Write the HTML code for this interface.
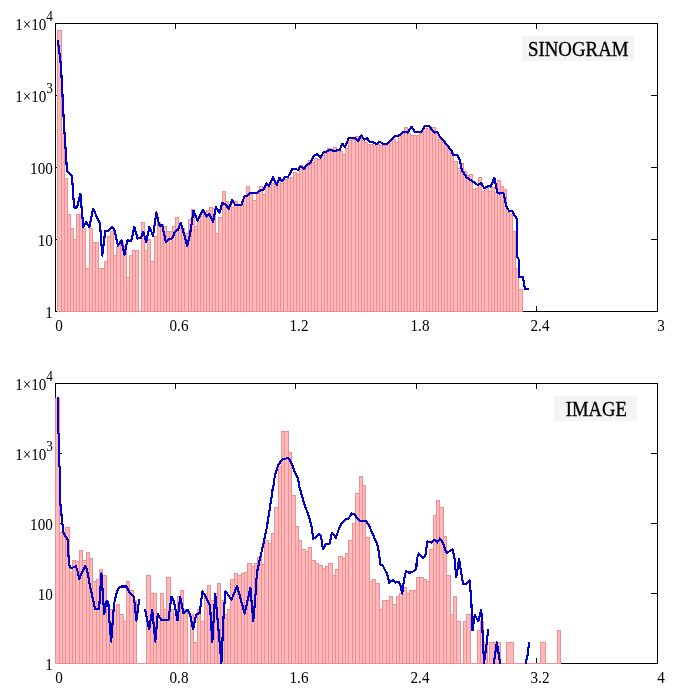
<!DOCTYPE html>
<html lang="en">
<head>
<meta charset="utf-8">
<title>Histograms: SINOGRAM and IMAGE</title>
<style>
html,body{margin:0;padding:0;background:#fff;}
body{width:693px;height:700px;overflow:hidden;font-family:"Liberation Serif",serif;}
svg{display:block;}
</style>
</head>
<body>
<svg width="693" height="700" viewBox="0 0 693 700" font-family="'Liberation Serif', serif" font-size="16" fill="#000">
<rect width="693" height="700" fill="#fff"/>
<g shape-rendering="crispEdges">
<rect x="55" y="23" width="603" height="1" fill="#000"/>
<rect x="55" y="311" width="603" height="1" fill="#000"/>
<rect x="55" y="23" width="1" height="289" fill="#000"/>
<rect x="657" y="23" width="1" height="289" fill="#000"/>
<rect x="175" y="23" width="1" height="6" fill="#000"/>
<rect x="175" y="306" width="1" height="6" fill="#000"/>
<rect x="295" y="23" width="1" height="6" fill="#000"/>
<rect x="295" y="306" width="1" height="6" fill="#000"/>
<rect x="416" y="23" width="1" height="6" fill="#000"/>
<rect x="416" y="306" width="1" height="6" fill="#000"/>
<rect x="536" y="23" width="1" height="6" fill="#000"/>
<rect x="536" y="306" width="1" height="6" fill="#000"/>
<rect x="55" y="95" width="7" height="1" fill="#000"/>
<rect x="651" y="95" width="7" height="1" fill="#000"/>
<rect x="55" y="167" width="7" height="1" fill="#000"/>
<rect x="651" y="167" width="7" height="1" fill="#000"/>
<rect x="55" y="239" width="7" height="1" fill="#000"/>
<rect x="651" y="239" width="7" height="1" fill="#000"/>
<rect x="57.5" y="30.5" width="4" height="281" fill="#ffb9ba" stroke="#ec9092" stroke-width="1"/>
<rect x="61.5" y="133.5" width="3" height="178" fill="#ffb9ba" stroke="#ec9092" stroke-width="1"/>
<rect x="64.5" y="178.5" width="3" height="133" fill="#ffb9ba" stroke="#ec9092" stroke-width="1"/>
<rect x="67.5" y="214.5" width="3" height="97" fill="#ffb9ba" stroke="#ec9092" stroke-width="1"/>
<rect x="70.5" y="228.5" width="3" height="83" fill="#ffb9ba" stroke="#ec9092" stroke-width="1"/>
<rect x="73.5" y="239.5" width="3" height="72" fill="#ffb9ba" stroke="#ec9092" stroke-width="1"/>
<rect x="76.5" y="214.5" width="3" height="97" fill="#ffb9ba" stroke="#ec9092" stroke-width="1"/>
<rect x="79.5" y="214.5" width="3" height="97" fill="#ffb9ba" stroke="#ec9092" stroke-width="1"/>
<rect x="82.5" y="228.5" width="3" height="83" fill="#ffb9ba" stroke="#ec9092" stroke-width="1"/>
<rect x="85.5" y="268.5" width="4" height="43" fill="#ffb9ba" stroke="#ec9092" stroke-width="1"/>
<rect x="89.5" y="228.5" width="3" height="83" fill="#ffb9ba" stroke="#ec9092" stroke-width="1"/>
<rect x="92.5" y="242.5" width="3" height="69" fill="#ffb9ba" stroke="#ec9092" stroke-width="1"/>
<rect x="95.5" y="242.5" width="3" height="69" fill="#ffb9ba" stroke="#ec9092" stroke-width="1"/>
<rect x="98.5" y="268.5" width="3" height="43" fill="#ffb9ba" stroke="#ec9092" stroke-width="1"/>
<rect x="101.5" y="268.5" width="3" height="43" fill="#ffb9ba" stroke="#ec9092" stroke-width="1"/>
<rect x="104.5" y="261.5" width="3" height="50" fill="#ffb9ba" stroke="#ec9092" stroke-width="1"/>
<rect x="107.5" y="236.5" width="3" height="75" fill="#ffb9ba" stroke="#ec9092" stroke-width="1"/>
<rect x="110.5" y="231.5" width="3" height="80" fill="#ffb9ba" stroke="#ec9092" stroke-width="1"/>
<rect x="113.5" y="255.5" width="3" height="56" fill="#ffb9ba" stroke="#ec9092" stroke-width="1"/>
<rect x="116.5" y="246.5" width="4" height="65" fill="#ffb9ba" stroke="#ec9092" stroke-width="1"/>
<rect x="120.5" y="242.5" width="3" height="69" fill="#ffb9ba" stroke="#ec9092" stroke-width="1"/>
<rect x="123.5" y="246.5" width="3" height="65" fill="#ffb9ba" stroke="#ec9092" stroke-width="1"/>
<rect x="126.5" y="277.5" width="3" height="34" fill="#ffb9ba" stroke="#ec9092" stroke-width="1"/>
<rect x="129.5" y="255.5" width="3" height="56" fill="#ffb9ba" stroke="#ec9092" stroke-width="1"/>
<rect x="132.5" y="250.5" width="3" height="61" fill="#ffb9ba" stroke="#ec9092" stroke-width="1"/>
<rect x="135.5" y="250.5" width="3" height="61" fill="#ffb9ba" stroke="#ec9092" stroke-width="1"/>
<rect x="138" y="311" width="4" height="1" fill="#ec9092"/>
<rect x="141.5" y="222.5" width="3" height="89" fill="#ffb9ba" stroke="#ec9092" stroke-width="1"/>
<rect x="144.5" y="250.5" width="3" height="61" fill="#ffb9ba" stroke="#ec9092" stroke-width="1"/>
<rect x="147.5" y="239.5" width="3" height="72" fill="#ffb9ba" stroke="#ec9092" stroke-width="1"/>
<rect x="150.5" y="261.5" width="4" height="50" fill="#ffb9ba" stroke="#ec9092" stroke-width="1"/>
<rect x="154.5" y="236.5" width="3" height="75" fill="#ffb9ba" stroke="#ec9092" stroke-width="1"/>
<rect x="157.5" y="222.5" width="3" height="89" fill="#ffb9ba" stroke="#ec9092" stroke-width="1"/>
<rect x="160.5" y="224.5" width="3" height="87" fill="#ffb9ba" stroke="#ec9092" stroke-width="1"/>
<rect x="163.5" y="226.5" width="3" height="85" fill="#ffb9ba" stroke="#ec9092" stroke-width="1"/>
<rect x="166.5" y="231.5" width="3" height="80" fill="#ffb9ba" stroke="#ec9092" stroke-width="1"/>
<rect x="169.5" y="231.5" width="3" height="80" fill="#ffb9ba" stroke="#ec9092" stroke-width="1"/>
<rect x="172.5" y="226.5" width="3" height="85" fill="#ffb9ba" stroke="#ec9092" stroke-width="1"/>
<rect x="175.5" y="217.5" width="3" height="94" fill="#ffb9ba" stroke="#ec9092" stroke-width="1"/>
<rect x="178.5" y="224.5" width="3" height="87" fill="#ffb9ba" stroke="#ec9092" stroke-width="1"/>
<rect x="181.5" y="228.5" width="3" height="83" fill="#ffb9ba" stroke="#ec9092" stroke-width="1"/>
<rect x="184.5" y="233.5" width="4" height="78" fill="#ffb9ba" stroke="#ec9092" stroke-width="1"/>
<rect x="188.5" y="219.5" width="3" height="92" fill="#ffb9ba" stroke="#ec9092" stroke-width="1"/>
<rect x="191.5" y="209.5" width="3" height="102" fill="#ffb9ba" stroke="#ec9092" stroke-width="1"/>
<rect x="194.5" y="226.5" width="3" height="85" fill="#ffb9ba" stroke="#ec9092" stroke-width="1"/>
<rect x="197.5" y="221.5" width="3" height="90" fill="#ffb9ba" stroke="#ec9092" stroke-width="1"/>
<rect x="200.5" y="213.5" width="3" height="98" fill="#ffb9ba" stroke="#ec9092" stroke-width="1"/>
<rect x="203.5" y="214.5" width="3" height="97" fill="#ffb9ba" stroke="#ec9092" stroke-width="1"/>
<rect x="206.5" y="210.5" width="3" height="101" fill="#ffb9ba" stroke="#ec9092" stroke-width="1"/>
<rect x="209.5" y="207.5" width="3" height="104" fill="#ffb9ba" stroke="#ec9092" stroke-width="1"/>
<rect x="212.5" y="208.5" width="3" height="103" fill="#ffb9ba" stroke="#ec9092" stroke-width="1"/>
<rect x="215.5" y="233.5" width="3" height="78" fill="#ffb9ba" stroke="#ec9092" stroke-width="1"/>
<rect x="218.5" y="217.5" width="4" height="94" fill="#ffb9ba" stroke="#ec9092" stroke-width="1"/>
<rect x="222.5" y="191.5" width="3" height="120" fill="#ffb9ba" stroke="#ec9092" stroke-width="1"/>
<rect x="225.5" y="201.5" width="3" height="110" fill="#ffb9ba" stroke="#ec9092" stroke-width="1"/>
<rect x="228.5" y="205.5" width="3" height="106" fill="#ffb9ba" stroke="#ec9092" stroke-width="1"/>
<rect x="231.5" y="207.5" width="3" height="104" fill="#ffb9ba" stroke="#ec9092" stroke-width="1"/>
<rect x="234.5" y="201.5" width="3" height="110" fill="#ffb9ba" stroke="#ec9092" stroke-width="1"/>
<rect x="237.5" y="205.5" width="3" height="106" fill="#ffb9ba" stroke="#ec9092" stroke-width="1"/>
<rect x="240.5" y="205.5" width="3" height="106" fill="#ffb9ba" stroke="#ec9092" stroke-width="1"/>
<rect x="243.5" y="196.5" width="3" height="115" fill="#ffb9ba" stroke="#ec9092" stroke-width="1"/>
<rect x="246.5" y="186.5" width="3" height="125" fill="#ffb9ba" stroke="#ec9092" stroke-width="1"/>
<rect x="249.5" y="194.5" width="3" height="117" fill="#ffb9ba" stroke="#ec9092" stroke-width="1"/>
<rect x="252.5" y="200.5" width="4" height="111" fill="#ffb9ba" stroke="#ec9092" stroke-width="1"/>
<rect x="256.5" y="193.5" width="3" height="118" fill="#ffb9ba" stroke="#ec9092" stroke-width="1"/>
<rect x="259.5" y="186.5" width="3" height="125" fill="#ffb9ba" stroke="#ec9092" stroke-width="1"/>
<rect x="262.5" y="194.5" width="3" height="117" fill="#ffb9ba" stroke="#ec9092" stroke-width="1"/>
<rect x="265.5" y="185.5" width="3" height="126" fill="#ffb9ba" stroke="#ec9092" stroke-width="1"/>
<rect x="268.5" y="187.5" width="3" height="124" fill="#ffb9ba" stroke="#ec9092" stroke-width="1"/>
<rect x="271.5" y="183.5" width="3" height="128" fill="#ffb9ba" stroke="#ec9092" stroke-width="1"/>
<rect x="274.5" y="186.5" width="3" height="125" fill="#ffb9ba" stroke="#ec9092" stroke-width="1"/>
<rect x="277.5" y="180.5" width="3" height="131" fill="#ffb9ba" stroke="#ec9092" stroke-width="1"/>
<rect x="280.5" y="183.5" width="3" height="128" fill="#ffb9ba" stroke="#ec9092" stroke-width="1"/>
<rect x="283.5" y="179.5" width="4" height="132" fill="#ffb9ba" stroke="#ec9092" stroke-width="1"/>
<rect x="287.5" y="178.5" width="3" height="133" fill="#ffb9ba" stroke="#ec9092" stroke-width="1"/>
<rect x="290.5" y="177.5" width="3" height="134" fill="#ffb9ba" stroke="#ec9092" stroke-width="1"/>
<rect x="293.5" y="172.5" width="3" height="139" fill="#ffb9ba" stroke="#ec9092" stroke-width="1"/>
<rect x="296.5" y="174.5" width="3" height="137" fill="#ffb9ba" stroke="#ec9092" stroke-width="1"/>
<rect x="299.5" y="165.5" width="3" height="146" fill="#ffb9ba" stroke="#ec9092" stroke-width="1"/>
<rect x="302.5" y="169.5" width="3" height="142" fill="#ffb9ba" stroke="#ec9092" stroke-width="1"/>
<rect x="305.5" y="164.5" width="3" height="147" fill="#ffb9ba" stroke="#ec9092" stroke-width="1"/>
<rect x="308.5" y="160.5" width="3" height="151" fill="#ffb9ba" stroke="#ec9092" stroke-width="1"/>
<rect x="311.5" y="162.5" width="3" height="149" fill="#ffb9ba" stroke="#ec9092" stroke-width="1"/>
<rect x="314.5" y="158.5" width="3" height="153" fill="#ffb9ba" stroke="#ec9092" stroke-width="1"/>
<rect x="317.5" y="159.5" width="4" height="152" fill="#ffb9ba" stroke="#ec9092" stroke-width="1"/>
<rect x="321.5" y="155.5" width="3" height="156" fill="#ffb9ba" stroke="#ec9092" stroke-width="1"/>
<rect x="324.5" y="153.5" width="3" height="158" fill="#ffb9ba" stroke="#ec9092" stroke-width="1"/>
<rect x="327.5" y="148.5" width="3" height="163" fill="#ffb9ba" stroke="#ec9092" stroke-width="1"/>
<rect x="330.5" y="151.5" width="3" height="160" fill="#ffb9ba" stroke="#ec9092" stroke-width="1"/>
<rect x="333.5" y="147.5" width="3" height="164" fill="#ffb9ba" stroke="#ec9092" stroke-width="1"/>
<rect x="336.5" y="151.5" width="3" height="160" fill="#ffb9ba" stroke="#ec9092" stroke-width="1"/>
<rect x="339.5" y="151.5" width="3" height="160" fill="#ffb9ba" stroke="#ec9092" stroke-width="1"/>
<rect x="342.5" y="154.5" width="3" height="157" fill="#ffb9ba" stroke="#ec9092" stroke-width="1"/>
<rect x="345.5" y="148.5" width="3" height="163" fill="#ffb9ba" stroke="#ec9092" stroke-width="1"/>
<rect x="348.5" y="140.5" width="3" height="171" fill="#ffb9ba" stroke="#ec9092" stroke-width="1"/>
<rect x="351.5" y="139.5" width="4" height="172" fill="#ffb9ba" stroke="#ec9092" stroke-width="1"/>
<rect x="355.5" y="136.5" width="3" height="175" fill="#ffb9ba" stroke="#ec9092" stroke-width="1"/>
<rect x="358.5" y="137.5" width="3" height="174" fill="#ffb9ba" stroke="#ec9092" stroke-width="1"/>
<rect x="361.5" y="140.5" width="3" height="171" fill="#ffb9ba" stroke="#ec9092" stroke-width="1"/>
<rect x="364.5" y="142.5" width="3" height="169" fill="#ffb9ba" stroke="#ec9092" stroke-width="1"/>
<rect x="367.5" y="144.5" width="3" height="167" fill="#ffb9ba" stroke="#ec9092" stroke-width="1"/>
<rect x="370.5" y="144.5" width="3" height="167" fill="#ffb9ba" stroke="#ec9092" stroke-width="1"/>
<rect x="373.5" y="145.5" width="3" height="166" fill="#ffb9ba" stroke="#ec9092" stroke-width="1"/>
<rect x="376.5" y="144.5" width="3" height="167" fill="#ffb9ba" stroke="#ec9092" stroke-width="1"/>
<rect x="379.5" y="145.5" width="3" height="166" fill="#ffb9ba" stroke="#ec9092" stroke-width="1"/>
<rect x="382.5" y="145.5" width="3" height="166" fill="#ffb9ba" stroke="#ec9092" stroke-width="1"/>
<rect x="385.5" y="145.5" width="4" height="166" fill="#ffb9ba" stroke="#ec9092" stroke-width="1"/>
<rect x="389.5" y="141.5" width="3" height="170" fill="#ffb9ba" stroke="#ec9092" stroke-width="1"/>
<rect x="392.5" y="139.5" width="3" height="172" fill="#ffb9ba" stroke="#ec9092" stroke-width="1"/>
<rect x="395.5" y="142.5" width="3" height="169" fill="#ffb9ba" stroke="#ec9092" stroke-width="1"/>
<rect x="398.5" y="136.5" width="3" height="175" fill="#ffb9ba" stroke="#ec9092" stroke-width="1"/>
<rect x="401.5" y="133.5" width="3" height="178" fill="#ffb9ba" stroke="#ec9092" stroke-width="1"/>
<rect x="404.5" y="127.5" width="3" height="184" fill="#ffb9ba" stroke="#ec9092" stroke-width="1"/>
<rect x="407.5" y="133.5" width="3" height="178" fill="#ffb9ba" stroke="#ec9092" stroke-width="1"/>
<rect x="410.5" y="135.5" width="3" height="176" fill="#ffb9ba" stroke="#ec9092" stroke-width="1"/>
<rect x="413.5" y="135.5" width="3" height="176" fill="#ffb9ba" stroke="#ec9092" stroke-width="1"/>
<rect x="416.5" y="135.5" width="3" height="176" fill="#ffb9ba" stroke="#ec9092" stroke-width="1"/>
<rect x="419.5" y="133.5" width="4" height="178" fill="#ffb9ba" stroke="#ec9092" stroke-width="1"/>
<rect x="423.5" y="128.5" width="3" height="183" fill="#ffb9ba" stroke="#ec9092" stroke-width="1"/>
<rect x="426.5" y="128.5" width="3" height="183" fill="#ffb9ba" stroke="#ec9092" stroke-width="1"/>
<rect x="429.5" y="127.5" width="3" height="184" fill="#ffb9ba" stroke="#ec9092" stroke-width="1"/>
<rect x="432.5" y="127.5" width="3" height="184" fill="#ffb9ba" stroke="#ec9092" stroke-width="1"/>
<rect x="435.5" y="133.5" width="3" height="178" fill="#ffb9ba" stroke="#ec9092" stroke-width="1"/>
<rect x="438.5" y="139.5" width="3" height="172" fill="#ffb9ba" stroke="#ec9092" stroke-width="1"/>
<rect x="441.5" y="142.5" width="3" height="169" fill="#ffb9ba" stroke="#ec9092" stroke-width="1"/>
<rect x="444.5" y="144.5" width="3" height="167" fill="#ffb9ba" stroke="#ec9092" stroke-width="1"/>
<rect x="447.5" y="150.5" width="3" height="161" fill="#ffb9ba" stroke="#ec9092" stroke-width="1"/>
<rect x="450.5" y="152.5" width="3" height="159" fill="#ffb9ba" stroke="#ec9092" stroke-width="1"/>
<rect x="453.5" y="161.5" width="4" height="150" fill="#ffb9ba" stroke="#ec9092" stroke-width="1"/>
<rect x="457.5" y="168.5" width="3" height="143" fill="#ffb9ba" stroke="#ec9092" stroke-width="1"/>
<rect x="460.5" y="163.5" width="3" height="148" fill="#ffb9ba" stroke="#ec9092" stroke-width="1"/>
<rect x="463.5" y="171.5" width="3" height="140" fill="#ffb9ba" stroke="#ec9092" stroke-width="1"/>
<rect x="466.5" y="175.5" width="3" height="136" fill="#ffb9ba" stroke="#ec9092" stroke-width="1"/>
<rect x="469.5" y="174.5" width="3" height="137" fill="#ffb9ba" stroke="#ec9092" stroke-width="1"/>
<rect x="472.5" y="189.5" width="3" height="122" fill="#ffb9ba" stroke="#ec9092" stroke-width="1"/>
<rect x="475.5" y="188.5" width="3" height="123" fill="#ffb9ba" stroke="#ec9092" stroke-width="1"/>
<rect x="478.5" y="177.5" width="3" height="134" fill="#ffb9ba" stroke="#ec9092" stroke-width="1"/>
<rect x="481.5" y="191.5" width="3" height="120" fill="#ffb9ba" stroke="#ec9092" stroke-width="1"/>
<rect x="484.5" y="187.5" width="4" height="124" fill="#ffb9ba" stroke="#ec9092" stroke-width="1"/>
<rect x="488.5" y="191.5" width="3" height="120" fill="#ffb9ba" stroke="#ec9092" stroke-width="1"/>
<rect x="491.5" y="187.5" width="3" height="124" fill="#ffb9ba" stroke="#ec9092" stroke-width="1"/>
<rect x="494.5" y="192.5" width="3" height="119" fill="#ffb9ba" stroke="#ec9092" stroke-width="1"/>
<rect x="497.5" y="180.5" width="3" height="131" fill="#ffb9ba" stroke="#ec9092" stroke-width="1"/>
<rect x="500.5" y="186.5" width="3" height="125" fill="#ffb9ba" stroke="#ec9092" stroke-width="1"/>
<rect x="503.5" y="189.5" width="3" height="122" fill="#ffb9ba" stroke="#ec9092" stroke-width="1"/>
<rect x="506.5" y="212.5" width="3" height="99" fill="#ffb9ba" stroke="#ec9092" stroke-width="1"/>
<rect x="509.5" y="214.5" width="3" height="97" fill="#ffb9ba" stroke="#ec9092" stroke-width="1"/>
<rect x="512.5" y="231.5" width="3" height="80" fill="#ffb9ba" stroke="#ec9092" stroke-width="1"/>
<rect x="515.5" y="268.5" width="3" height="43" fill="#ffb9ba" stroke="#ec9092" stroke-width="1"/>
<rect x="518.5" y="289.5" width="4" height="22" fill="#ffb9ba" stroke="#ec9092" stroke-width="1"/>
<rect x="55" y="383" width="603" height="1" fill="#000"/>
<rect x="55" y="663" width="603" height="1" fill="#000"/>
<rect x="55" y="383" width="1" height="281" fill="#000"/>
<rect x="657" y="383" width="1" height="281" fill="#000"/>
<rect x="175" y="383" width="1" height="6" fill="#000"/>
<rect x="175" y="658" width="1" height="6" fill="#000"/>
<rect x="295" y="383" width="1" height="6" fill="#000"/>
<rect x="295" y="658" width="1" height="6" fill="#000"/>
<rect x="416" y="383" width="1" height="6" fill="#000"/>
<rect x="416" y="658" width="1" height="6" fill="#000"/>
<rect x="536" y="383" width="1" height="6" fill="#000"/>
<rect x="536" y="658" width="1" height="6" fill="#000"/>
<rect x="55" y="453" width="7" height="1" fill="#000"/>
<rect x="651" y="453" width="7" height="1" fill="#000"/>
<rect x="55" y="523" width="7" height="1" fill="#000"/>
<rect x="651" y="523" width="7" height="1" fill="#000"/>
<rect x="55" y="593" width="7" height="1" fill="#000"/>
<rect x="651" y="593" width="7" height="1" fill="#000"/>
<rect x="55" y="663" width="506" height="1" fill="#ec9092"/>
<rect x="55.5" y="398.5" width="4" height="265" fill="#ffb9ba" stroke="#ec9092" stroke-width="1"/>
<rect x="59.5" y="532.5" width="3" height="131" fill="#ffb9ba" stroke="#ec9092" stroke-width="1"/>
<rect x="62.5" y="535.5" width="3" height="128" fill="#ffb9ba" stroke="#ec9092" stroke-width="1"/>
<rect x="65.5" y="527.5" width="4" height="136" fill="#ffb9ba" stroke="#ec9092" stroke-width="1"/>
<rect x="69.5" y="572.5" width="3" height="91" fill="#ffb9ba" stroke="#ec9092" stroke-width="1"/>
<rect x="72.5" y="560.5" width="3" height="103" fill="#ffb9ba" stroke="#ec9092" stroke-width="1"/>
<rect x="75.5" y="561.5" width="4" height="102" fill="#ffb9ba" stroke="#ec9092" stroke-width="1"/>
<rect x="79.5" y="550.5" width="3" height="113" fill="#ffb9ba" stroke="#ec9092" stroke-width="1"/>
<rect x="82.5" y="560.5" width="4" height="103" fill="#ffb9ba" stroke="#ec9092" stroke-width="1"/>
<rect x="86.5" y="552.5" width="3" height="111" fill="#ffb9ba" stroke="#ec9092" stroke-width="1"/>
<rect x="89.5" y="558.5" width="3" height="105" fill="#ffb9ba" stroke="#ec9092" stroke-width="1"/>
<rect x="92.5" y="581.5" width="4" height="82" fill="#ffb9ba" stroke="#ec9092" stroke-width="1"/>
<rect x="96.5" y="579.5" width="3" height="84" fill="#ffb9ba" stroke="#ec9092" stroke-width="1"/>
<rect x="99.5" y="569.5" width="3" height="94" fill="#ffb9ba" stroke="#ec9092" stroke-width="1"/>
<rect x="102.5" y="575.5" width="4" height="88" fill="#ffb9ba" stroke="#ec9092" stroke-width="1"/>
<rect x="106.5" y="609.5" width="3" height="54" fill="#ffb9ba" stroke="#ec9092" stroke-width="1"/>
<rect x="109.5" y="609.5" width="4" height="54" fill="#ffb9ba" stroke="#ec9092" stroke-width="1"/>
<rect x="113.5" y="609.5" width="3" height="54" fill="#ffb9ba" stroke="#ec9092" stroke-width="1"/>
<rect x="116.5" y="604.5" width="3" height="59" fill="#ffb9ba" stroke="#ec9092" stroke-width="1"/>
<rect x="119.5" y="614.5" width="4" height="49" fill="#ffb9ba" stroke="#ec9092" stroke-width="1"/>
<rect x="123.5" y="621.5" width="3" height="42" fill="#ffb9ba" stroke="#ec9092" stroke-width="1"/>
<rect x="126.5" y="581.5" width="3" height="82" fill="#ffb9ba" stroke="#ec9092" stroke-width="1"/>
<rect x="129.5" y="590.5" width="4" height="73" fill="#ffb9ba" stroke="#ec9092" stroke-width="1"/>
<rect x="133.5" y="600.5" width="3" height="63" fill="#ffb9ba" stroke="#ec9092" stroke-width="1"/>
<rect x="146.5" y="575.5" width="4" height="88" fill="#ffb9ba" stroke="#ec9092" stroke-width="1"/>
<rect x="150.5" y="593.5" width="3" height="70" fill="#ffb9ba" stroke="#ec9092" stroke-width="1"/>
<rect x="153.5" y="593.5" width="3" height="70" fill="#ffb9ba" stroke="#ec9092" stroke-width="1"/>
<rect x="156.5" y="621.5" width="4" height="42" fill="#ffb9ba" stroke="#ec9092" stroke-width="1"/>
<rect x="160.5" y="593.5" width="3" height="70" fill="#ffb9ba" stroke="#ec9092" stroke-width="1"/>
<rect x="163.5" y="609.5" width="3" height="54" fill="#ffb9ba" stroke="#ec9092" stroke-width="1"/>
<rect x="166.5" y="577.5" width="4" height="86" fill="#ffb9ba" stroke="#ec9092" stroke-width="1"/>
<rect x="170.5" y="609.5" width="3" height="54" fill="#ffb9ba" stroke="#ec9092" stroke-width="1"/>
<rect x="173.5" y="614.5" width="4" height="49" fill="#ffb9ba" stroke="#ec9092" stroke-width="1"/>
<rect x="177.5" y="596.5" width="3" height="67" fill="#ffb9ba" stroke="#ec9092" stroke-width="1"/>
<rect x="180.5" y="590.5" width="3" height="73" fill="#ffb9ba" stroke="#ec9092" stroke-width="1"/>
<rect x="183.5" y="609.5" width="4" height="54" fill="#ffb9ba" stroke="#ec9092" stroke-width="1"/>
<rect x="190.5" y="614.5" width="3" height="49" fill="#ffb9ba" stroke="#ec9092" stroke-width="1"/>
<rect x="193.5" y="642.5" width="4" height="21" fill="#ffb9ba" stroke="#ec9092" stroke-width="1"/>
<rect x="197.5" y="609.5" width="3" height="54" fill="#ffb9ba" stroke="#ec9092" stroke-width="1"/>
<rect x="200.5" y="621.5" width="4" height="42" fill="#ffb9ba" stroke="#ec9092" stroke-width="1"/>
<rect x="204.5" y="593.5" width="3" height="70" fill="#ffb9ba" stroke="#ec9092" stroke-width="1"/>
<rect x="207.5" y="585.5" width="3" height="78" fill="#ffb9ba" stroke="#ec9092" stroke-width="1"/>
<rect x="210.5" y="600.5" width="4" height="63" fill="#ffb9ba" stroke="#ec9092" stroke-width="1"/>
<rect x="214.5" y="593.5" width="3" height="70" fill="#ffb9ba" stroke="#ec9092" stroke-width="1"/>
<rect x="217.5" y="583.5" width="3" height="80" fill="#ffb9ba" stroke="#ec9092" stroke-width="1"/>
<rect x="220.5" y="600.5" width="4" height="63" fill="#ffb9ba" stroke="#ec9092" stroke-width="1"/>
<rect x="224.5" y="614.5" width="3" height="49" fill="#ffb9ba" stroke="#ec9092" stroke-width="1"/>
<rect x="227.5" y="609.5" width="3" height="54" fill="#ffb9ba" stroke="#ec9092" stroke-width="1"/>
<rect x="230.5" y="579.5" width="4" height="84" fill="#ffb9ba" stroke="#ec9092" stroke-width="1"/>
<rect x="234.5" y="573.5" width="3" height="90" fill="#ffb9ba" stroke="#ec9092" stroke-width="1"/>
<rect x="237.5" y="575.5" width="4" height="88" fill="#ffb9ba" stroke="#ec9092" stroke-width="1"/>
<rect x="241.5" y="573.5" width="3" height="90" fill="#ffb9ba" stroke="#ec9092" stroke-width="1"/>
<rect x="244.5" y="572.5" width="3" height="91" fill="#ffb9ba" stroke="#ec9092" stroke-width="1"/>
<rect x="247.5" y="563.5" width="4" height="100" fill="#ffb9ba" stroke="#ec9092" stroke-width="1"/>
<rect x="251.5" y="566.5" width="3" height="97" fill="#ffb9ba" stroke="#ec9092" stroke-width="1"/>
<rect x="254.5" y="563.5" width="3" height="100" fill="#ffb9ba" stroke="#ec9092" stroke-width="1"/>
<rect x="257.5" y="557.5" width="4" height="106" fill="#ffb9ba" stroke="#ec9092" stroke-width="1"/>
<rect x="261.5" y="564.5" width="3" height="99" fill="#ffb9ba" stroke="#ec9092" stroke-width="1"/>
<rect x="264.5" y="540.5" width="4" height="123" fill="#ffb9ba" stroke="#ec9092" stroke-width="1"/>
<rect x="268.5" y="543.5" width="3" height="120" fill="#ffb9ba" stroke="#ec9092" stroke-width="1"/>
<rect x="271.5" y="533.5" width="3" height="130" fill="#ffb9ba" stroke="#ec9092" stroke-width="1"/>
<rect x="274.5" y="507.5" width="4" height="156" fill="#ffb9ba" stroke="#ec9092" stroke-width="1"/>
<rect x="278.5" y="466.5" width="3" height="197" fill="#ffb9ba" stroke="#ec9092" stroke-width="1"/>
<rect x="281.5" y="431.5" width="3" height="232" fill="#ffb9ba" stroke="#ec9092" stroke-width="1"/>
<rect x="284.5" y="431.5" width="4" height="232" fill="#ffb9ba" stroke="#ec9092" stroke-width="1"/>
<rect x="288.5" y="452.5" width="3" height="211" fill="#ffb9ba" stroke="#ec9092" stroke-width="1"/>
<rect x="291.5" y="495.5" width="4" height="168" fill="#ffb9ba" stroke="#ec9092" stroke-width="1"/>
<rect x="295.5" y="526.5" width="3" height="137" fill="#ffb9ba" stroke="#ec9092" stroke-width="1"/>
<rect x="298.5" y="540.5" width="3" height="123" fill="#ffb9ba" stroke="#ec9092" stroke-width="1"/>
<rect x="301.5" y="549.5" width="4" height="114" fill="#ffb9ba" stroke="#ec9092" stroke-width="1"/>
<rect x="305.5" y="551.5" width="3" height="112" fill="#ffb9ba" stroke="#ec9092" stroke-width="1"/>
<rect x="308.5" y="547.5" width="3" height="116" fill="#ffb9ba" stroke="#ec9092" stroke-width="1"/>
<rect x="311.5" y="560.5" width="4" height="103" fill="#ffb9ba" stroke="#ec9092" stroke-width="1"/>
<rect x="315.5" y="563.5" width="3" height="100" fill="#ffb9ba" stroke="#ec9092" stroke-width="1"/>
<rect x="318.5" y="565.5" width="4" height="98" fill="#ffb9ba" stroke="#ec9092" stroke-width="1"/>
<rect x="322.5" y="568.5" width="3" height="95" fill="#ffb9ba" stroke="#ec9092" stroke-width="1"/>
<rect x="325.5" y="566.5" width="3" height="97" fill="#ffb9ba" stroke="#ec9092" stroke-width="1"/>
<rect x="328.5" y="563.5" width="4" height="100" fill="#ffb9ba" stroke="#ec9092" stroke-width="1"/>
<rect x="332.5" y="575.5" width="3" height="88" fill="#ffb9ba" stroke="#ec9092" stroke-width="1"/>
<rect x="335.5" y="569.5" width="3" height="94" fill="#ffb9ba" stroke="#ec9092" stroke-width="1"/>
<rect x="338.5" y="556.5" width="4" height="107" fill="#ffb9ba" stroke="#ec9092" stroke-width="1"/>
<rect x="342.5" y="558.5" width="3" height="105" fill="#ffb9ba" stroke="#ec9092" stroke-width="1"/>
<rect x="345.5" y="553.5" width="3" height="110" fill="#ffb9ba" stroke="#ec9092" stroke-width="1"/>
<rect x="348.5" y="540.5" width="4" height="123" fill="#ffb9ba" stroke="#ec9092" stroke-width="1"/>
<rect x="352.5" y="523.5" width="3" height="140" fill="#ffb9ba" stroke="#ec9092" stroke-width="1"/>
<rect x="355.5" y="493.5" width="4" height="170" fill="#ffb9ba" stroke="#ec9092" stroke-width="1"/>
<rect x="359.5" y="476.5" width="3" height="187" fill="#ffb9ba" stroke="#ec9092" stroke-width="1"/>
<rect x="362.5" y="485.5" width="3" height="178" fill="#ffb9ba" stroke="#ec9092" stroke-width="1"/>
<rect x="365.5" y="537.5" width="4" height="126" fill="#ffb9ba" stroke="#ec9092" stroke-width="1"/>
<rect x="369.5" y="581.5" width="3" height="82" fill="#ffb9ba" stroke="#ec9092" stroke-width="1"/>
<rect x="372.5" y="579.5" width="3" height="84" fill="#ffb9ba" stroke="#ec9092" stroke-width="1"/>
<rect x="375.5" y="583.5" width="4" height="80" fill="#ffb9ba" stroke="#ec9092" stroke-width="1"/>
<rect x="379.5" y="609.5" width="3" height="54" fill="#ffb9ba" stroke="#ec9092" stroke-width="1"/>
<rect x="382.5" y="600.5" width="4" height="63" fill="#ffb9ba" stroke="#ec9092" stroke-width="1"/>
<rect x="386.5" y="600.5" width="3" height="63" fill="#ffb9ba" stroke="#ec9092" stroke-width="1"/>
<rect x="389.5" y="596.5" width="3" height="67" fill="#ffb9ba" stroke="#ec9092" stroke-width="1"/>
<rect x="392.5" y="604.5" width="4" height="59" fill="#ffb9ba" stroke="#ec9092" stroke-width="1"/>
<rect x="396.5" y="596.5" width="3" height="67" fill="#ffb9ba" stroke="#ec9092" stroke-width="1"/>
<rect x="399.5" y="593.5" width="3" height="70" fill="#ffb9ba" stroke="#ec9092" stroke-width="1"/>
<rect x="402.5" y="587.5" width="4" height="76" fill="#ffb9ba" stroke="#ec9092" stroke-width="1"/>
<rect x="406.5" y="593.5" width="3" height="70" fill="#ffb9ba" stroke="#ec9092" stroke-width="1"/>
<rect x="409.5" y="590.5" width="4" height="73" fill="#ffb9ba" stroke="#ec9092" stroke-width="1"/>
<rect x="413.5" y="590.5" width="3" height="73" fill="#ffb9ba" stroke="#ec9092" stroke-width="1"/>
<rect x="416.5" y="577.5" width="3" height="86" fill="#ffb9ba" stroke="#ec9092" stroke-width="1"/>
<rect x="419.5" y="577.5" width="4" height="86" fill="#ffb9ba" stroke="#ec9092" stroke-width="1"/>
<rect x="423.5" y="579.5" width="3" height="84" fill="#ffb9ba" stroke="#ec9092" stroke-width="1"/>
<rect x="426.5" y="581.5" width="3" height="82" fill="#ffb9ba" stroke="#ec9092" stroke-width="1"/>
<rect x="429.5" y="549.5" width="4" height="114" fill="#ffb9ba" stroke="#ec9092" stroke-width="1"/>
<rect x="433.5" y="515.5" width="3" height="148" fill="#ffb9ba" stroke="#ec9092" stroke-width="1"/>
<rect x="436.5" y="500.5" width="3" height="163" fill="#ffb9ba" stroke="#ec9092" stroke-width="1"/>
<rect x="439.5" y="507.5" width="4" height="156" fill="#ffb9ba" stroke="#ec9092" stroke-width="1"/>
<rect x="443.5" y="536.5" width="3" height="127" fill="#ffb9ba" stroke="#ec9092" stroke-width="1"/>
<rect x="446.5" y="575.5" width="4" height="88" fill="#ffb9ba" stroke="#ec9092" stroke-width="1"/>
<rect x="450.5" y="614.5" width="3" height="49" fill="#ffb9ba" stroke="#ec9092" stroke-width="1"/>
<rect x="453.5" y="596.5" width="3" height="67" fill="#ffb9ba" stroke="#ec9092" stroke-width="1"/>
<rect x="456.5" y="621.5" width="4" height="42" fill="#ffb9ba" stroke="#ec9092" stroke-width="1"/>
<rect x="463.5" y="621.5" width="3" height="42" fill="#ffb9ba" stroke="#ec9092" stroke-width="1"/>
<rect x="466.5" y="614.5" width="4" height="49" fill="#ffb9ba" stroke="#ec9092" stroke-width="1"/>
<rect x="477.5" y="630.5" width="3" height="33" fill="#ffb9ba" stroke="#ec9092" stroke-width="1"/>
<rect x="480.5" y="621.5" width="3" height="42" fill="#ffb9ba" stroke="#ec9092" stroke-width="1"/>
<rect x="483.5" y="642.5" width="4" height="21" fill="#ffb9ba" stroke="#ec9092" stroke-width="1"/>
<rect x="489.5" y="642.5" width="5" height="21" fill="#ffb9ba" stroke="#ec9092" stroke-width="1"/>
<rect x="494.5" y="642.5" width="6" height="21" fill="#ffb9ba" stroke="#ec9092" stroke-width="1"/>
<rect x="506.5" y="642.5" width="7" height="21" fill="#ffb9ba" stroke="#ec9092" stroke-width="1"/>
<rect x="540.5" y="642.5" width="5" height="21" fill="#ffb9ba" stroke="#ec9092" stroke-width="1"/>
<rect x="557.5" y="630.5" width="3" height="33" fill="#ffb9ba" stroke="#ec9092" stroke-width="1"/>

</g>
<g shape-rendering="crispEdges">
<polyline points="58.0,41.0 61.0,66.0 64.0,125.0 67.0,171.0 72.0,176.0 74.1,207.5 76.9,207.5 80.4,193.7 83.3,227.2 86.2,222.0 89.3,227.2 93.1,208.7 100.0,223.7 102.3,255.5 105.2,231.2 108.7,230.6 112.2,226.6 114.5,230.0 117.9,245.6 121.4,240.4 124.5,255.0 127.2,240.4 131.2,241.0 134.4,227.0 137.5,238.5 141.0,237.9 143.3,231.6 146.2,242.0 149.4,227.0 153.1,235.6 156.3,212.5 159.4,225.8 162.3,225.2 165.8,242.0 169.3,239.1 172.1,238.5 175.0,231.6 177.9,229.8 180.8,222.9 184.3,235.0 187.2,246.0 190.0,234.5 193.5,210.8 197.6,220.6 203.0,209.6 206.4,216.6 209.0,213.5 213.1,222.2 216.0,207.2 219.4,212.9 222.3,203.1 225.6,204.3 228.7,208.9 232.1,200.2 235.0,204.8 241.4,204.8 244.8,195.6 247.1,195.6 250.0,192.7 257.0,192.7 260.4,190.4 263.3,190.4 266.2,183.5 269.1,185.8 273.1,177.1 276.6,185.2 279.5,177.7 282.3,181.4 285.2,176.8 288.1,176.8 292.1,169.3 294.4,168.7 297.9,169.8 300.8,166.4 304.2,168.7 307.1,164.7 310.0,163.5 314.1,155.4 317.5,154.3 320.4,157.7 323.3,152.5 326.8,151.4 330.2,149.6 333.7,150.8 339.5,150.2 342.4,143.9 345.2,146.8 348.7,138.1 355.0,137.7 357.9,141.2 361.4,135.4 364.2,139.5 367.1,138.3 370.0,142.3 372.9,142.3 376.4,144.1 379.8,141.8 383.9,144.1 387.3,143.5 394.8,136.0 399.5,135.4 403.5,132.0 407.5,132.5 411.6,126.8 415.0,132.0 421.4,132.0 424.9,125.6 428.9,125.6 434.0,132.5 437.5,132.0 440.4,137.7 443.9,141.2 451.4,150.4 453.1,155.0 457.1,155.0 460.0,160.8 461.9,170.4 466.5,177.3 477.5,184.8 481.0,183.1 484.4,188.3 487.9,186.0 490.8,186.6 494.3,177.9 497.1,191.8 498.9,193.5 503.5,192.9 506.4,206.2 509.3,211.4 512.2,211.4 517.4,220.0 517.4,257.0 518.8,259.5 518.8,276.6 522.7,276.6 525.0,288.7 528.5,288.7" fill="none" stroke="#0000c8" stroke-width="2.15" stroke-linejoin="round" stroke-linecap="round"/>
<polyline points="58.3,398.0 58.3,432.0 59.1,436.0 59.3,466.0 60.2,470.0 60.4,504.0 61.2,512.0 62.0,520.0 63.0,529.0 63.7,533.5 67.8,539.8 68.5,556.6 69.6,566.4 71.4,568.1 76.0,566.4 77.7,571.6 79.2,579.5 81.2,573.9 85.2,565.8 87.0,569.3 89.8,585.0 95.0,608.7 99.1,608.7 101.4,573.3 104.2,613.9 106.5,601.0 108.3,601.6 109.4,621.0 111.2,641.6 112.9,619.0 114.1,603.8 115.9,595.9 117.0,590.8 119.5,587.6 121.7,586.5 126.4,586.5 129.6,592.3 134.0,597.5 136.4,620.7 139.1,600.2" fill="none" stroke="#0000c8" stroke-width="2.15" stroke-linejoin="round" stroke-linecap="round"/>
<polyline points="145.2,609.7 149.2,629.4 152.2,609.7 155.3,641.5 157.8,614.2 161.3,620.3 168.4,620.3 171.4,596.6 173.9,601.1 177.5,620.3 180.2,597.1 183.5,613.2 187.6,609.7 190.6,616.3 193.1,629.4 196.2,614.5 199.6,613.1 202.5,591.2 210.0,605.0 212.3,642.0 215.2,594.1 216.9,612.0 221.4,663.0 223.9,609.7 225.6,591.2 231.4,599.8 237.1,586.0 244.7,613.7 250.4,587.7 253.3,621.2 255.6,593.5 256.2,580.8 257.5,570.0 259.8,559.3 263.3,544.3 266.7,528.1 269.1,513.1 271.4,498.1 272.5,490.0 273.6,485.0 274.0,480.4 275.3,474.4 277.9,465.7 280.1,462.2 282.7,459.2 285.3,458.8 287.5,457.9 289.6,459.6 292.2,464.8 294.8,472.2 297.9,478.7 299.7,488.0 304.3,503.9 308.9,516.6 311.2,524.6 313.3,539.1 319.3,533.9 321.0,536.2 323.0,549.5 325.6,544.5 329.6,543.9 331.9,532.9 336.0,537.6 338.9,528.9 341.7,523.1 345.2,519.7 348.7,518.5 351.6,513.3 354.4,514.5 359.6,520.8 366.0,520.8 368.9,525.4 373.5,535.8 377.5,545.1 378.7,551.5 380.4,564.8 382.7,565.4 387.4,574.6 389.1,582.7 393.1,579.8 395.4,582.7 398.3,581.6 400.1,583.9 402.2,593.5 404.2,578.5 406.0,571.0 408.9,572.7 412.3,572.1 416.4,568.7 416.7,559.3 418.7,553.5 423.3,558.1 425.6,554.7 427.3,541.4 431.4,542.5 434.3,539.7 437.1,542.5 440.0,538.5 442.9,543.1 446.4,552.9 452.7,549.5 454.5,558.1 456.2,577.3 459.1,559.3 461.4,573.9 463.1,583.7 466.0,584.2 469.5,580.2 471.2,598.1 472.5,630.4 474.8,614.8 478.3,621.2 481.2,609.6 482.3,627.0 484.0,663.3 486.4,645.4 488.1,630.4" fill="none" stroke="#0000c8" stroke-width="2.15" stroke-linejoin="round" stroke-linecap="round"/>
<polyline points="493.9,663.3 496.8,642.5 500.2,663.3" fill="none" stroke="#0000c8" stroke-width="2.15" stroke-linejoin="round" stroke-linecap="round"/>
<polyline points="57.6,398.5 57.6,433.0" fill="none" stroke="#0000c8" stroke-width="2.15" stroke-linejoin="round" stroke-linecap="round"/>
<polyline points="525.6,663.3 527.4,656.4 529.1,642.5" fill="none" stroke="#0000c8" stroke-width="2.15" stroke-linejoin="round" stroke-linecap="round"/>
</g>
<text x="55.22" y="330.8" font-size="16" textLength="7.56" lengthAdjust="spacingAndGlyphs">0</text>
<text x="169.55" y="330.8" font-size="16" textLength="18.90" lengthAdjust="spacingAndGlyphs">0.6</text>
<text x="289.55" y="330.8" font-size="16" textLength="18.90" lengthAdjust="spacingAndGlyphs">1.2</text>
<text x="410.55" y="330.8" font-size="16" textLength="18.90" lengthAdjust="spacingAndGlyphs">1.8</text>
<text x="530.55" y="330.8" font-size="16" textLength="18.90" lengthAdjust="spacingAndGlyphs">2.4</text>
<text x="657.22" y="330.8" font-size="16" textLength="7.56" lengthAdjust="spacingAndGlyphs">3</text>
<text x="15.20" y="30" font-size="16" textLength="31.20" lengthAdjust="spacingAndGlyphs">1×10</text>
<text x="46.20" y="21" font-size="14" textLength="6.61" lengthAdjust="spacingAndGlyphs">4</text>
<text x="15.20" y="102" font-size="16" textLength="31.20" lengthAdjust="spacingAndGlyphs">1×10</text>
<text x="46.20" y="93" font-size="14" textLength="6.61" lengthAdjust="spacingAndGlyphs">3</text>
<text x="30.12" y="174" font-size="16" textLength="22.68" lengthAdjust="spacingAndGlyphs">100</text>
<text x="37.68" y="246" font-size="16" textLength="15.12" lengthAdjust="spacingAndGlyphs">10</text>
<text x="45.24" y="318" font-size="16" textLength="7.56" lengthAdjust="spacingAndGlyphs">1</text>
<text x="55.22" y="682.8" font-size="16" textLength="7.56" lengthAdjust="spacingAndGlyphs">0</text>
<text x="169.55" y="682.8" font-size="16" textLength="18.90" lengthAdjust="spacingAndGlyphs">0.8</text>
<text x="289.55" y="682.8" font-size="16" textLength="18.90" lengthAdjust="spacingAndGlyphs">1.6</text>
<text x="410.55" y="682.8" font-size="16" textLength="18.90" lengthAdjust="spacingAndGlyphs">2.4</text>
<text x="530.55" y="682.8" font-size="16" textLength="18.90" lengthAdjust="spacingAndGlyphs">3.2</text>
<text x="657.22" y="682.8" font-size="16" textLength="7.56" lengthAdjust="spacingAndGlyphs">4</text>
<text x="15.20" y="390" font-size="16" textLength="31.20" lengthAdjust="spacingAndGlyphs">1×10</text>
<text x="46.20" y="381" font-size="14" textLength="6.61" lengthAdjust="spacingAndGlyphs">4</text>
<text x="15.20" y="460" font-size="16" textLength="31.20" lengthAdjust="spacingAndGlyphs">1×10</text>
<text x="46.20" y="451" font-size="14" textLength="6.61" lengthAdjust="spacingAndGlyphs">3</text>
<text x="30.12" y="530" font-size="16" textLength="22.68" lengthAdjust="spacingAndGlyphs">100</text>
<text x="37.68" y="600" font-size="16" textLength="15.12" lengthAdjust="spacingAndGlyphs">10</text>
<text x="45.24" y="670" font-size="16" textLength="7.56" lengthAdjust="spacingAndGlyphs">1</text>
<rect x="522" y="36" width="112" height="25" fill="#f4f4f6"/>
<text x="528" y="55.7" font-size="20.5" textLength="100.5" lengthAdjust="spacingAndGlyphs" stroke="#000" stroke-width="0.35">SINOGRAM</text>
<rect x="554" y="396" width="83" height="25" fill="#f4f4f6"/>
<text x="565.8" y="415.7" font-size="20.5" textLength="61" lengthAdjust="spacingAndGlyphs" stroke="#000" stroke-width="0.35">IMAGE</text>
</svg>
</body>
</html>
